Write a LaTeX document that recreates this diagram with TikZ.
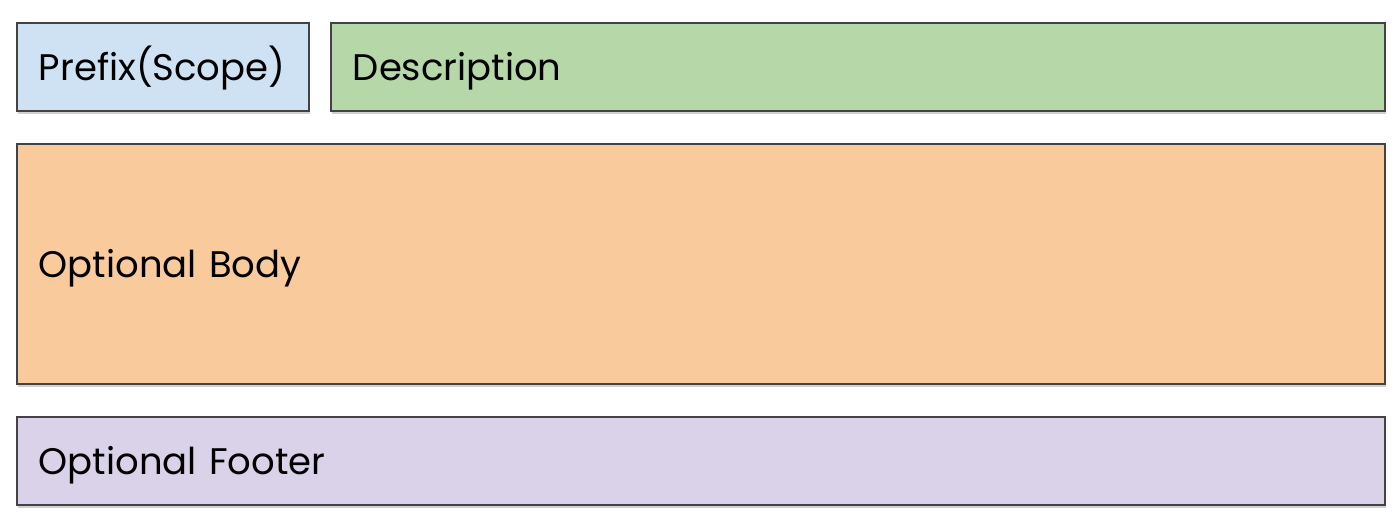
\documentclass[tikz,border=0pt]{standalone}
\usepackage{fontspec}
\setmainfont{Poppins}
\usetikzlibrary{shadows}

\definecolor{scopeblue}{HTML}{CFE2F3}
\definecolor{descgreen}{HTML}{B6D7A8}
\definecolor{bodyorange}{HTML}{F9CB9C}
\definecolor{footerpurple}{HTML}{D9D2E9}
\definecolor{boxline}{HTML}{434343}

\begin{document}
\begin{tikzpicture}[x=1pt, y=-1pt]
        \tikzset{PartStyle/.style={rectangle, draw=boxline, line width=1.7pt,
            anchor=north west, align=left, inner xsep=22pt, inner ysep=0pt,
            text height=32pt, text depth=4pt,
            font=\fontsize{37}{40}\selectfont,
            drop shadow={shadow xshift=1.5pt, shadow yshift=-3pt,
              fill=black, opacity=0.18}}}

        \useasboundingbox (0,0) rectangle (1400,522);

        % header line: scope and description side by side
        \node[PartStyle, fill=scopeblue, text width=248pt,
          minimum height=88pt] (prefix) at (16,22) {Prefix(Scope)};
        \node[PartStyle, fill=descgreen, text width=1010pt,
          minimum height=88pt] (description) at (330,22) {Description};

        \node[PartStyle, fill=bodyorange, text width=1324pt,
          minimum height=240pt] (body) at (16,143) {Optional Body};
        \node[PartStyle, fill=footerpurple, text width=1324pt,
          minimum height=88pt] (footer) at (16,416) {Optional Footer};
      \end{tikzpicture}
\end{document}
